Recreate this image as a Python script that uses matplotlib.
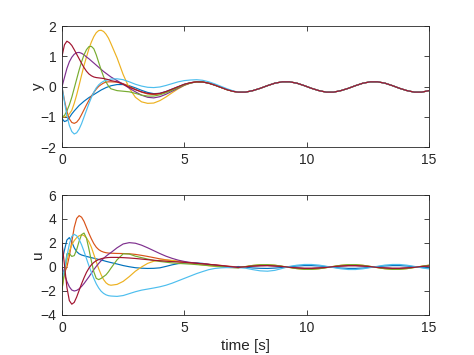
"""
Closed-loop response of seven initial conditions: output y and input u.
"""

import matplotlib

matplotlib.use("Agg")
import matplotlib.pyplot as plt
import numpy as np

# sample times
t_head = [0.0, 0.1, 0.2, 0.3, 0.4, 0.5, 0.6, 0.7, 0.8, 0.9, 1.0,
          1.1, 1.2, 1.3, 1.4, 1.5, 1.6, 1.7, 1.8, 1.9, 2.0]
t_mid = [2.25, 2.5, 2.75, 3.0, 3.25, 3.5, 3.75, 4.0, 4.25, 4.5,
         4.75, 5.0, 5.25, 5.5, 5.75, 6.0, 6.25, 6.5, 6.75, 7.0]
t_tail = [7.2, 7.5, 7.8, 8.1, 8.4, 8.7, 9.0, 9.3, 9.6, 9.9, 10.2, 10.5, 10.8, 11.1,
          11.4, 11.7, 12.0, 12.3, 12.6, 12.9, 13.2, 13.5, 13.8, 14.1, 14.4, 14.7, 15.0]

# output y, first two seconds
y_head_blue = [-1.05, -1.15, -1.12, -1.02, -0.9, -0.8, -0.71, -0.62, -0.55, -0.48, -0.42,
               -0.36, -0.31, -0.26, -0.21, -0.16, -0.11, -0.07, -0.03, 0.0, 0.03]
y_head_orange = [0.0, -0.45, -0.82, -1.06, -1.18, -1.21, -1.17, -1.07, -0.92, -0.76, -0.6,
                 -0.45, -0.31, -0.19, -0.08, 0.01, 0.07, 0.12, 0.15, 0.16, 0.16]
y_head_yellow = [-1.0, -1.0, -0.96, -0.9, -0.78, -0.55, -0.27, 0.05, 0.38, 0.7, 0.98,
                 1.25, 1.47, 1.65, 1.78, 1.85, 1.86, 1.82, 1.73, 1.6, 1.42]
y_head_purple = [0.0, 0.3, 0.6, 0.82, 0.97, 1.07, 1.12, 1.13, 1.1, 1.05, 0.98,
                 0.92, 0.85, 0.78, 0.71, 0.64, 0.57, 0.5, 0.44, 0.38, 0.32]
y_head_green = [-1.0, -0.95, -0.8, -0.6, -0.35, -0.05, 0.25, 0.55, 0.82, 1.05, 1.22,
                1.32, 1.33, 1.25, 1.05, 0.8, 0.55, 0.33, 0.15, 0.02, -0.07]
y_head_cyan = [0.0, -0.5, -0.95, -1.28, -1.48, -1.56, -1.52, -1.4, -1.22, -1.0, -0.78,
               -0.56, -0.36, -0.18, -0.04, 0.06, 0.13, 0.18, 0.21, 0.23, 0.25]
y_head_darkred = [1.0, 1.38, 1.5, 1.45, 1.36, 1.22, 1.07, 0.92, 0.77, 0.63, 0.51,
                  0.42, 0.36, 0.32, 0.3, 0.29, 0.28, 0.27, 0.25, 0.23, 0.2]

# output y, 2.25 s to 7 s
y_mid_blue = [0.07, 0.07, 0.03, -0.04, -0.12, -0.19, -0.23, -0.22, -0.16, -0.08,
              0.0, 0.08, 0.13, 0.16, 0.155, 0.115, 0.05, -0.025, -0.1, -0.155]
y_mid_orange = [0.15, 0.1, 0.01, -0.09, -0.18, -0.24, -0.26, -0.24, -0.18, -0.1,
                -0.01, 0.07, 0.13, 0.16, 0.155, 0.115, 0.05, -0.025, -0.1, -0.155]
y_mid_yellow = [0.95, 0.4, -0.05, -0.35, -0.5, -0.55, -0.54, -0.46, -0.34, -0.2,
                -0.07, 0.04, 0.12, 0.16, 0.16, 0.12, 0.05, -0.025, -0.1, -0.155]
y_mid_purple = [0.2, 0.08, -0.05, -0.17, -0.28, -0.35, -0.37, -0.33, -0.25, -0.15,
                -0.05, 0.05, 0.12, 0.16, 0.155, 0.115, 0.05, -0.025, -0.1, -0.155]
y_mid_green = [-0.13, -0.15, -0.17, -0.22, -0.28, -0.31, -0.31, -0.27, -0.2, -0.12,
               -0.03, 0.06, 0.12, 0.16, 0.155, 0.115, 0.05, -0.025, -0.1, -0.155]
y_mid_cyan = [0.26, 0.23, 0.16, 0.08, 0.02, -0.02, -0.03, -0.01, 0.04, 0.1,
              0.16, 0.2, 0.22, 0.23, 0.21, 0.16, 0.09, 0.01, -0.07, -0.14]
y_mid_darkred = [0.16, 0.08, -0.02, -0.1, -0.17, -0.22, -0.24, -0.22, -0.16, -0.08,
                 0.0, 0.08, 0.13, 0.16, 0.155, 0.115, 0.05, -0.025, -0.1, -0.155]

# all outputs coincide after ~7 s
y_tail = [-0.18, -0.18, -0.13, -0.055, 0.035, 0.115, 0.16, 0.16, 0.115, 0.035, -0.055,
          -0.13, -0.18, -0.18, -0.13, -0.055, 0.035, 0.115, 0.16, 0.16, 0.115, 0.035,
          -0.055, -0.13, -0.18, -0.18, -0.13]

# input u, first two seconds
u_head_blue = [0.5, 1.4, 2.25, 2.45, 2.1, 1.6, 1.28, 1.1, 1.0, 0.94, 0.88,
               0.83, 0.78, 0.73, 0.68, 0.63, 0.58, 0.53, 0.47, 0.42, 0.37]
u_head_orange = [-0.6, -0.5, 0.0, 0.9, 2.1, 3.3, 4.05, 4.28, 4.15, 3.8, 3.3,
                 2.8, 2.35, 1.95, 1.65, 1.45, 1.32, 1.24, 1.19, 1.16, 1.15]
u_head_yellow = [-1.8, -0.6, 0.5, 1.3, 1.85, 2.2, 2.45, 2.6, 2.68, 2.62, 2.42,
                 2.1, 1.65, 1.05, 0.45, -0.15, -0.65, -1.05, -1.32, -1.47, -1.52]
u_head_purple = [0.0, -0.6, -1.2, -1.65, -1.92, -2.0, -1.95, -1.82, -1.62, -1.38, -1.1,
                 -0.82, -0.52, -0.22, 0.05, 0.3, 0.52, 0.72, 0.9, 1.06, 1.2]
u_head_green = [-1.9, -0.4, 1.1, 1.12, 0.88, 0.95, 1.45, 2.15, 2.7, 2.83, 2.4,
                1.5, 0.5, -0.4, -0.95, -1.05, -0.95, -0.8, -0.65, -0.4, -0.1]
u_head_cyan = [-1.0, -0.2, 0.9, 1.9, 2.55, 2.72, 2.6, 2.3, 1.85, 1.3, 0.7,
               0.1, -0.45, -0.95, -1.4, -1.75, -2.02, -2.2, -2.32, -2.39, -2.42]
u_head_darkred = [2.0, 0.2, -1.7, -2.8, -3.1, -2.95, -2.5, -1.95, -1.4, -0.9, -0.45,
                  -0.1, 0.18, 0.38, 0.52, 0.62, 0.69, 0.74, 0.77, 0.79, 0.8]

# input u, 2.25 s to 7 s
u_mid_blue = [0.25, 0.12, 0.02, -0.06, -0.1, -0.12, -0.11, -0.07, 0.05, 0.18,
              0.28, 0.33, 0.35, 0.34, 0.3, 0.22, 0.15, 0.08, 0.02, -0.02]
u_mid_orange = [1.13, 1.12, 1.1, 1.05, 0.97, 0.88, 0.78, 0.68, 0.6, 0.52,
                0.45, 0.4, 0.35, 0.3, 0.26, 0.22, 0.18, 0.13, 0.08, 0.03]
u_mid_yellow = [-1.45, -1.2, -0.8, -0.35, 0.0, 0.3, 0.48, 0.57, 0.58, 0.55,
                0.48, 0.4, 0.32, 0.24, 0.17, 0.1, 0.05, 0.0, -0.04, -0.06]
u_mid_purple = [1.6, 1.92, 2.03, 1.98, 1.82, 1.6, 1.36, 1.12, 0.9, 0.72,
                0.57, 0.46, 0.38, 0.31, 0.26, 0.21, 0.15, 0.1, 0.04, -0.01]
u_mid_green = [0.6, 1.1, 1.08, 0.9, 0.78, 0.66, 0.55, 0.46, 0.4, 0.34,
               0.3, 0.27, 0.24, 0.2, 0.16, 0.12, 0.08, 0.04, 0.0, -0.04]
u_mid_cyan = [-2.45, -2.38, -2.22, -2.06, -1.93, -1.84, -1.75, -1.65, -1.52, -1.35,
              -1.15, -0.95, -0.75, -0.55, -0.38, -0.22, -0.12, -0.07, -0.05, -0.05]
u_mid_darkred = [0.8, 0.78, 0.75, 0.71, 0.66, 0.61, 0.56, 0.52, 0.48, 0.45,
                 0.42, 0.39, 0.35, 0.31, 0.27, 0.22, 0.17, 0.12, 0.06, 0.0]

# input u after ~7 s: small oscillations around zero
u_tail_big = [-0.07, 0.035, 0.13, 0.19, 0.195, 0.15, 0.06, -0.04, -0.135, -0.19, -0.195,
              -0.145, -0.055, 0.05, 0.14, 0.195, 0.195, 0.14, 0.05, -0.055, -0.145,
              -0.195, -0.19, -0.135, -0.04, 0.06, 0.15]
u_tail_small = [-0.04, 0.02, 0.08, 0.11, 0.12, 0.09, 0.04, -0.025, -0.08, -0.115, -0.115,
                -0.085, -0.035, 0.03, 0.085, 0.115, 0.115, 0.085, 0.03, -0.035, -0.085,
                -0.115, -0.115, -0.08, -0.025, 0.04, 0.09]
u_tail_blue = [0.04, -0.02, -0.08, -0.11, -0.12, -0.09, -0.04, 0.025, 0.08, 0.115, 0.115,
               0.085, 0.035, -0.03, -0.085, -0.115, -0.115, -0.085, -0.03, 0.035, 0.085,
               0.115, 0.115, 0.08, 0.025, -0.04, -0.09]
u_tail_cyan = [-0.05, -0.1, -0.22, -0.32, -0.35, -0.28, -0.12, 0.05, 0.15, 0.21, 0.21,
               0.16, 0.06, -0.05, -0.15, -0.21, -0.21, -0.15, -0.05, 0.06, 0.16,
               0.21, 0.21, 0.15, 0.05, -0.07, -0.16]

colors = ["#0072BD", "#D95319", "#EDB120", "#7E2F8E", "#77AC30", "#4DBEEE", "#A2142F"]

y_series = [
    y_head_blue + y_mid_blue + y_tail,
    y_head_orange + y_mid_orange + y_tail,
    y_head_yellow + y_mid_yellow + y_tail,
    y_head_purple + y_mid_purple + y_tail,
    y_head_green + y_mid_green + y_tail,
    y_head_cyan + y_mid_cyan + y_tail,
    y_head_darkred + y_mid_darkred + y_tail,
]
u_series = [
    u_head_blue + u_mid_blue + u_tail_blue,
    u_head_orange + u_mid_orange + u_tail_small,
    u_head_yellow + u_mid_yellow + u_tail_big,
    u_head_purple + u_mid_purple + u_tail_small,
    u_head_green + u_mid_green + u_tail_big,
    u_head_cyan + u_mid_cyan + u_tail_cyan,
    u_head_darkred + u_mid_darkred + u_tail_small,
]

AX_GRAY = "#262626"


def style_axes(ax, ylim, yticks):
    ax.set_xlim(0, 15)
    ax.set_ylim(*ylim)
    ax.set_xticks([0, 5, 10, 15])
    ax.set_yticks(yticks)
    ax.tick_params(direction="in", length=3.5, width=0.6, colors=AX_GRAY,
                   labelsize=10, top=True, right=True, pad=4)
    for spine in ax.spines.values():
        spine.set_color(AX_GRAY)
        spine.set_linewidth(0.6)


def main() -> None:
    plt.rcParams["font.family"] = ["Liberation Sans", "DejaVu Sans"]
    t = np.array(t_head + t_mid + t_tail)

    fig = plt.figure(figsize=(4.74, 3.55), dpi=100)
    ax1 = fig.add_axes([0.1308, 0.585, 0.7743, 0.3417])
    ax2 = fig.add_axes([0.1308, 0.1127, 0.7743, 0.338])

    for color, values in zip(colors, y_series):
        ax1.plot(t, values, color=color, linewidth=0.85)
    for color, values in zip(colors, u_series):
        ax2.plot(t, values, color=color, linewidth=0.85)

    style_axes(ax1, (-2, 2), [-2, -1, 0, 1, 2])
    style_axes(ax2, (-4, 6), [-4, -2, 0, 2, 4, 6])

    ax1.set_ylabel("y", fontsize=11, color=AX_GRAY, labelpad=-3)
    ax2.set_ylabel("u", fontsize=11, color=AX_GRAY, labelpad=-3)
    ax2.set_xlabel("time [s]", fontsize=11, color=AX_GRAY, labelpad=3)

    fig.savefig("out.png", dpi=100)


if __name__ == "__main__":
    main()
